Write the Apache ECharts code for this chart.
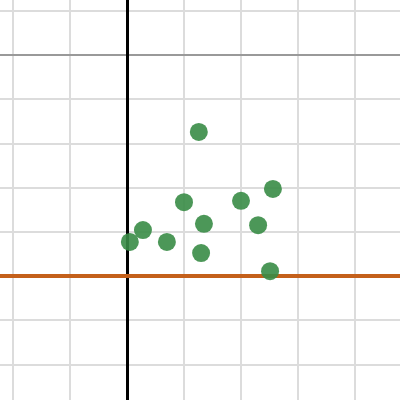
<!DOCTYPE html><html><head><meta charset="utf-8"><script src="https://cdn.jsdelivr.net/npm/echarts@6/dist/echarts.min.js"></script></head><body style="margin:0"><div id="c" style="width:400px;height:400px"></div><script>
const xs=[0.05,0.28,0.70,1.0,1.26,1.35,1.30,2.0,2.30,2.56,2.51];
const ys=[0.77,1.04,0.77,1.67,3.26,1.18,0.52,1.70,1.15,1.97,0.11];
const gridX=[-2,-1,1,2,3,4];
const gridY=[-2,-1,1,2,3,4,6];
const c=echarts.init(document.getElementById('c'));
const ml=(data,color,w)=>({type:'line',data:[],markLine:{silent:true,symbol:'none',label:{show:false},animation:false,lineStyle:{color:color,width:w,type:'solid'},data:data}});
c.setOption({animation:false,grid:{left:0,right:0,top:0,bottom:0},
xAxis:{type:'value',min:-127/57,max:273/57,show:false,splitLine:{show:false}},
yAxis:{type:'value',min:-124/44.2,max:276/44.2,show:false,splitLine:{show:false}},
series:[ml(gridX.map(v=>({xAxis:v})),'#dcdcdc',2),ml(gridY.map(v=>({yAxis:v})),'#dcdcdc',2),
ml([{yAxis:5}],'#999',2),ml([{xAxis:0}],'#000',3),ml([{yAxis:0}],'#c4601a',4),
{type:'scatter',data:xs.map((x,i)=>[x,ys[i]]),symbolSize:18,itemStyle:{color:'#388c46',opacity:0.9},z:10}]});
</script></body></html>
